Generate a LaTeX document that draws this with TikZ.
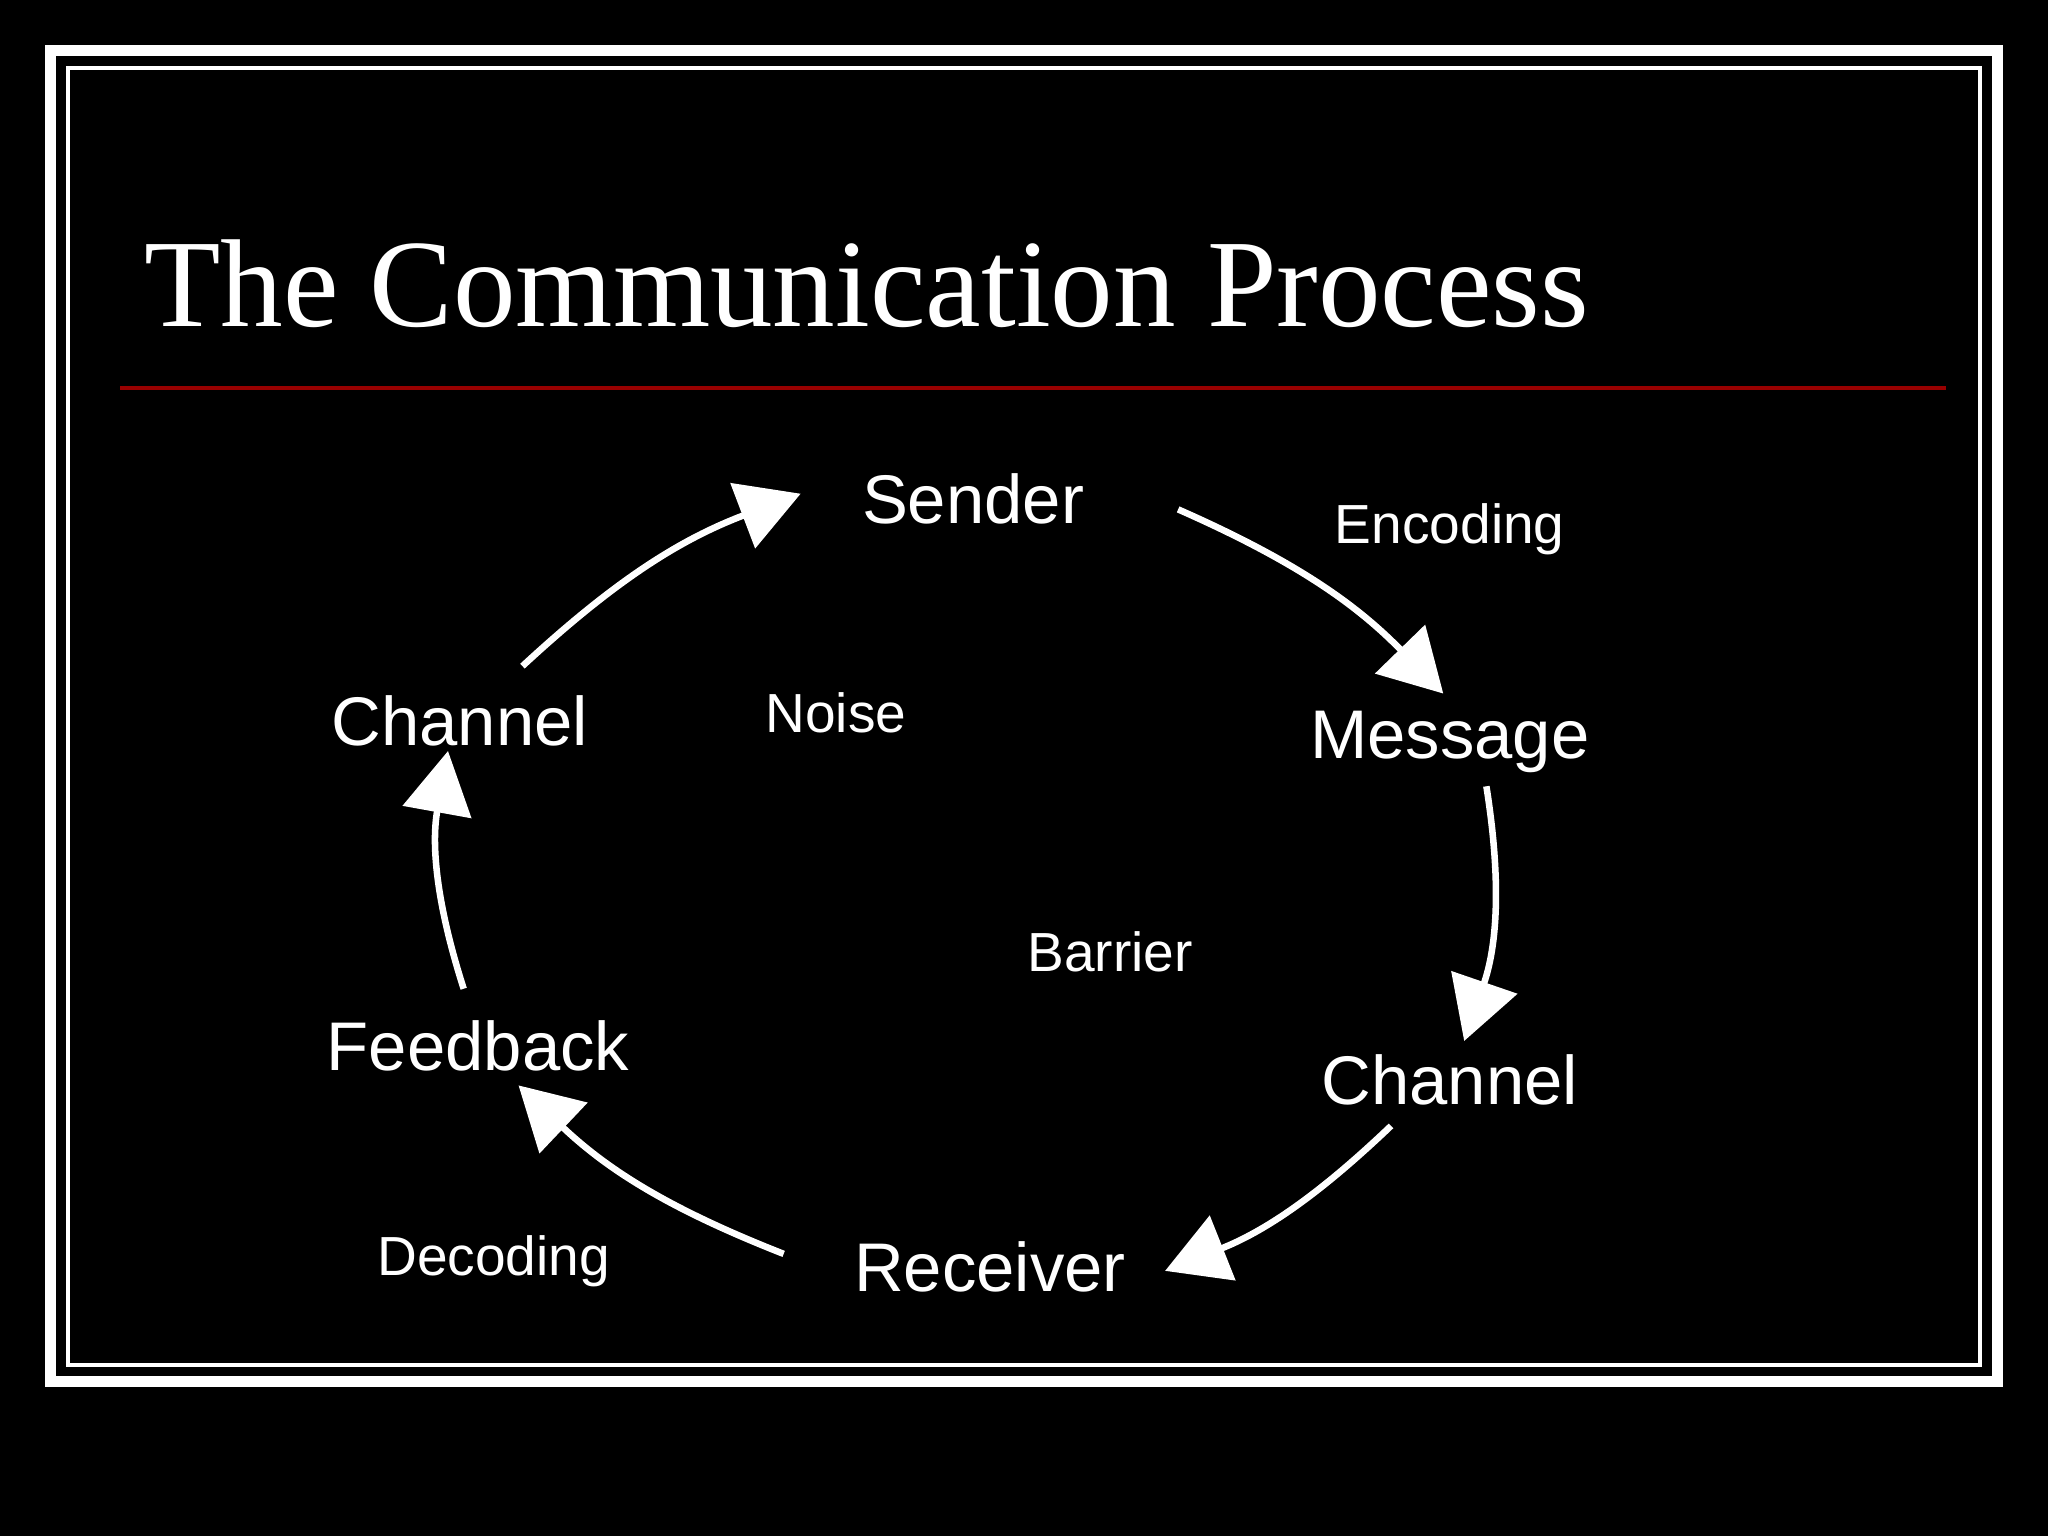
\documentclass[tikz,border=0pt]{standalone}
\usepackage{fontspec}
\setmainfont{Liberation Serif}
\setsansfont{Liberation Sans}
\usetikzlibrary{arrows.meta}
\begin{document}
\begin{tikzpicture}[x=0.02cm,y=-0.02cm,
  lbl/.style={text=white,font=\sffamily\fontsize{30}{30}\selectfont,inner sep=0},
  sml/.style={text=white,font=\sffamily\fontsize{24}{24}\selectfont,inner sep=0},
  arr/.style={white,line width=0.1cm,-{Triangle[length=0.95cm,width=1.05cm]}}]
\fill[black] (0,0) rectangle (1568,1176);
\useasboundingbox (0,0) rectangle (1568,1176);
\draw[white,line width=0.17cm] (39,39) rectangle (1529,1058);
\draw[white,line width=0.05cm] (52,52) rectangle (1516,1045);
\node[anchor=base west,text=white,inner sep=0,font=\fontsize{54.5}{55}\selectfont] (title) at (110,250) {The Communication Process};
\draw[red!60!black,line width=0.05cm] (92,297) -- (1490,297);
\node[lbl] (sender) at (745,382) {Sender};
\node[lbl] (message) at (1110,568) {Message};
\node[lbl] (channelr) at (1110,827) {Channel};
\node[lbl] (receiver) at (758,970) {Receiver};
\node[lbl] (feedback) at (366,801) {Feedback};
\node[lbl] (channell) at (352,552) {Channel};
\node[sml] (enc) at (1110,405) {Encoding};
\node[sml] (noise) at (640,546) {Noise};
\node[sml] (barrier) at (850,729) {Barrier};
\node[sml] (dec) at (378,966) {Decoding};
\coordinate (a1) at (400,510); \coordinate (b1) at (613,378);
\coordinate (a2) at (902,390); \coordinate (b2) at (1105,531);
\coordinate (a3) at (1138,602); \coordinate (b3) at (1121,797);
\coordinate (a4) at (1065,862); \coordinate (b4) at (892,973);
\coordinate (a5) at (600,960); \coordinate (b5) at (397,831);
\coordinate (a6) at (355,757); \coordinate (b6) at (343,575);
\draw[arr] (a1) to[bend left=11] (b1);
\draw[arr] (a2) to[bend left=11] (b2);
\draw[arr] (a3) to[bend left=14] (b3);
\draw[arr] (a4) to[bend left=11] (b4);
\draw[arr] (a5) to[bend left=11] (b5);
\draw[arr] (a6) to[bend left=14] (b6);
\end{tikzpicture}
\end{document}
